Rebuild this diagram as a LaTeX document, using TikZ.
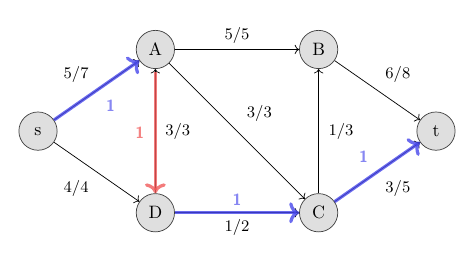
\documentclass[tikz,border=0pt]{standalone}
\usepackage{tikz}
\usetikzlibrary{arrows.meta}
\definecolor{flowblue}{RGB}{70,70,235}
\definecolor{flowred}{RGB}{240,90,90}

\begin{document}
\begin{tikzpicture}[
    vertex/.style={circle, draw=black!75, fill=gray!25, minimum size=7.5mm, inner sep=0pt},
    edge/.style={->, thin},
    augblue/.style={->, line width=1.8pt, flowblue, opacity=0.8},
    augred/.style={->, line width=1.8pt, flowred, opacity=0.8},
    lbl/.style={font=\small},
    flow/.style={font=\small\sffamily\bfseries, opacity=1}
]
  \useasboundingbox (-0.745,-2.61) rectangle (8.545,2.57);
  \node[vertex] (s) at (0,0) {s};
  \node[vertex] (A) at (2.3,1.6) {A};
  \node[vertex] (B) at (5.5,1.6) {B};
  \node[vertex] (t) at (7.8,0) {t};
  \node[vertex] (D) at (2.3,-1.6) {D};
  \node[vertex] (C) at (5.5,-1.6) {C};
  % capacities
  \draw[edge] (s) -- node[lbl, above left=1pt] {5/7} (A);
  \draw[edge] (s) -- node[lbl, below left=1pt] {4/4} (D);
  \draw[edge] (A) -- node[lbl, above] {5/5} (B);
  \draw[edge] (A) -- node[lbl, above right=2pt] {3/3} (C);
  \draw[edge] (D) -- node[lbl, right=2pt] {3/3} (A);
  \draw[edge] (D) -- node[lbl, below] {1/2} (C);
  \draw[edge] (C) -- node[lbl, right=2pt] {1/3} (B);
  \draw[edge] (B) -- node[lbl, above right=1pt] {6/8} (t);
  \draw[edge] (C) -- node[lbl, below right=1pt] {3/5} (t);
  % augmenting path
  \draw[augblue] (s) -- node[flow, below right=1pt, text=flowblue!65] {1} (A);
  \draw[augred] ([yshift=-1.5pt]A.south) -- node[flow, left=2pt, text=flowred!75] {1} (D);
  \draw[augblue] (D) -- node[flow, above, text=flowblue!65] {1} (C);
  \draw[augblue] (C) -- node[flow, above left=1pt, text=flowblue!65] {1} (t);
\end{tikzpicture}
\end{document}
